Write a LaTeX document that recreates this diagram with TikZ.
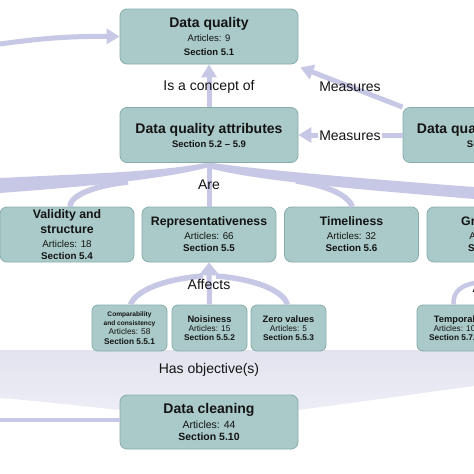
\documentclass[tikz,border=0pt]{standalone}
\usepackage{fontspec}
\setmainfont{Liberation Sans}
\usetikzlibrary{arrows.meta}
\definecolor{boxfill}{HTML}{A9CAC8}
\definecolor{boxline}{HTML}{88ACAA}
\definecolor{lav}{HTML}{C7C7E6}
\definecolor{lavbg}{HTML}{E3E3EF}
\definecolor{lavbgb}{HTML}{EDEDF6}
\definecolor{txt}{HTML}{141414}
\newcommand\bxhead[1]{{\fontsize{14}{14}\selectfont\bfseries #1}}
\newcommand\bxmid[1]{{\fontsize{12.3}{12.3}\selectfont\bfseries #1}}
\begin{document}
\begin{tikzpicture}[x=1pt,y=-1pt,
  box/.style={draw=boxline, fill=boxfill, rounded corners=7pt, line width=0.8pt, align=center, inner sep=0pt, text=txt},
  bigbox/.style={box, minimum width=178pt, minimum height=55pt},
  midbox/.style={box, minimum width=134pt, minimum height=55pt, font=\fontsize{9.8}{12.3}\selectfont},
  smallbox/.style={box, rounded corners=6pt, minimum width=75pt, minimum height=46pt, font=\fontsize{8.3}{9}\selectfont},
  conn/.style={draw=lav, line width=5pt},
  tip/.style={-{Triangle[length=13pt,width=15pt]}},
  lbl/.style={font=\fontsize{14}{16}\selectfont, text=txt, inner sep=1pt}]
\useasboundingbox (0,0) rectangle (474,474);
\clip (0,0) rectangle (474,474);
\fill[white] (0,0) rectangle (474,474);

% nodes
\node[bigbox, font=\fontsize{9.5}{14}\selectfont] (dq) at (209,36.5) {\bxhead{Data quality}\\Articles: 9\\\textbf{Section 5.1}};
\node[bigbox, font=\fontsize{9.5}{14}\selectfont] (dqa) at (209,135) {\bxhead{Data quality attributes}\\\textbf{Section 5.2 – 5.9}};
\node[bigbox, font=\fontsize{9.5}{14}\selectfont] (dqm) at (492,135) {\bxhead{Data quality indicators}\\\textbf{Section 5.3}};

% Has objective(s) band
\coordinate (hbL) at (0,398);
\coordinate (hbR) at (474,386);
\coordinate (dcL) at (120,410);
\coordinate (dcR) at (298,410);
\shade[top color=lavbg, middle color=white, bottom color=lavbgb]
  (0,350) -- (474,350) -- (hbR) .. controls (400,396) and (330,406) .. (dcR)
  -- (dcL) .. controls (90,407) and (40,401) .. (hbL) -- cycle;

% Are fan
\coordinate (areL1) at (0,178);
\coordinate (areL2) at (0,193);
\coordinate (areR1) at (474,187);
\coordinate (areR2) at (474,199);
\fill[lav] ([xshift=-3pt]dqa.south) .. controls (160,172) and (80,174) .. (areL1) -- (areL2)
  .. controls (80,187) and (160,180) .. ([xshift=1pt,yshift=-4pt]dqa.south) -- cycle;
\fill[lav] ([xshift=3pt]dqa.south) .. controls (260,170) and (380,180) .. (areR1) -- (areR2)
  .. controls (380,191) and (260,182) .. ([xshift=-1pt,yshift=-5pt]dqa.south) -- cycle;

\node[midbox] (val) at (67,234.5) {\bxmid{Validity and}\\[2.5pt]\bxmid{structure}\\[2pt]Articles: 18\\\textbf{Section 5.4}};
\node[midbox] (rep) at (209,234.5) {\bxmid{Representativeness}\\[1.5pt]Articles: 66\\\textbf{Section 5.5}};
\node[midbox] (tim) at (351.5,234.5) {\bxmid{Timeliness}\\[1.5pt]Articles: 32\\\textbf{Section 5.6}};
\node[midbox] (gra) at (494,234.5) {\bxmid{Granularity}\\[1.5pt]Articles: 21\\\textbf{Section 5.7}};

\node[smallbox] (cmp) at (129.5,328) {{\fontsize{6.6}{7}\selectfont\bfseries Comparability}\\{\fontsize{6.6}{7}\selectfont\bfseries and consistency}\\Articles: 58\\[1pt]\textbf{Section 5.5.1}};
\node[smallbox] (noi) at (209.5,328) {{\fontsize{9.3}{9}\selectfont\bfseries Noisiness}\\[0.5pt]Articles: 15\\\textbf{Section 5.5.2}};
\node[smallbox] (zer) at (288.5,328) {{\fontsize{9.3}{9}\selectfont\bfseries Zero values}\\[0.5pt]Articles: 5\\\textbf{Section 5.5.3}};
\node[smallbox] (tem) at (454.5,328) {{\fontsize{9.3}{9}\selectfont\bfseries Temporal}\\[0.5pt]Articles: 10\\\textbf{Section 5.7.1}};

\node[bigbox, minimum height=54pt, font=\fontsize{10.5}{11.7}\selectfont] (dc) at (209,422) {\bxhead{Data cleaning}\\[3.3pt]Articles: 44\\\textbf{Section 5.10}};

% connectors
\coordinate (inL) at (0,44);
\draw[conn, tip] (inL) .. controls (30,40) and (60,36) .. (dq.west);
\draw[conn, tip] (dqa.north) -- (dq.south);
\draw[conn, tip] (dqm.north west) -- ([xshift=2pt,yshift=-3pt]dq.south east);
\draw[conn, tip] (dqm.west) -- (dqa.east);
\draw[conn] (dqa.south) -- (rep.north);
\draw[draw=lav, line width=5.5pt] (128,182) .. controls (92,186) and (70,196) .. ([xshift=3pt]val.north);
\draw[draw=lav, line width=5.5pt] (296,181) .. controls (330,186) and (348,196) .. ([xshift=1pt]tim.north);
\draw[conn, -{Triangle[length=13pt,width=20pt]}] (noi.north) -- (rep.south);
\draw[draw=lav, line width=5.5pt] ([xshift=1pt]cmp.north) .. controls (136,290) and (165,279) .. (203,276);
\draw[draw=lav, line width=5.5pt] ([xshift=-1pt]zer.north) .. controls (283,290) and (254,279) .. (216,276);
\coordinate (graT) at (482,282);
\draw[draw=lav, line width=4.5pt] ([xshift=-1pt]tem.north) .. controls (453,292) and (460,284) .. (graT);
\coordinate (outL) at (0,420);
\draw[draw=lav, line width=4pt] ([yshift=2pt]dc.west) -- (outL);

% labels
\node[lbl] (l1) at (209,87) {Is a concept of};
\node[lbl] (l2) at (350,87) {Measures};
\node[lbl, fill=white] (l3) at (350,136) {Measures};
\node[lbl] (l4) at (209,185) {Are};
\node[lbl] (l5) at (209,284) {Affects};
\node[lbl, anchor=west] (l6) at (471.5,287) {Affects};
\node[lbl] (l7) at (209,370) {Has objective(s)};
\end{tikzpicture}
\end{document}
